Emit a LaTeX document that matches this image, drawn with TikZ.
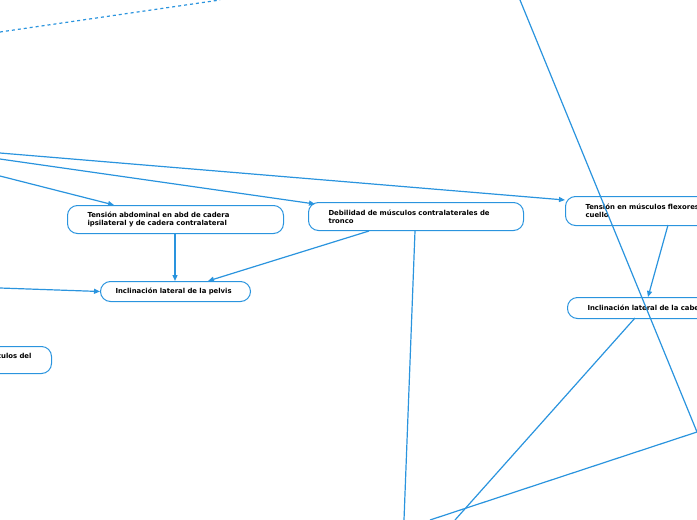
\documentclass[tikz,border=0pt]{standalone}
\usepackage{fontspec}
\setmainfont{DejaVu Sans}
\usetikzlibrary{arrows.meta}
\definecolor{ln}{HTML}{2A94DE}
\tikzset{
 box/.style={draw=ln,line width=1pt,rounded corners=10pt,anchor=north west,font=\bfseries\fontsize{6.9}{8.2}\selectfont,align=left,inner xsep=20pt,inner ysep=0pt,text width=176pt,minimum height=28pt},
 con/.style={draw=ln,line width=1.2pt},
 arr/.style={con,-{Triangle[length=6pt,width=5pt]}}
}
\begin{document}
\begin{tikzpicture}[x=1pt,y=-1pt]
\useasboundingbox (0,0) rectangle (697,520);
\clip (0,0) rectangle (697,520);
\node[box,text width=176pt] (n1) at (67,205) {Tensión abdominal en abd de cadera\\ipsilateral y de cadera contralateral};
\node[box,text width=175pt] (n2) at (308,202) {Debilidad de músculos contralaterales de\\tronco};
\node[box,minimum height=29pt] (n3) at (565,196) {Tensión en músculos flexores del\\cuello};
\node[box,text width=120pt,inner xsep=15pt,minimum height=20pt] (n4) at (100,281) {Inclinación lateral de la pelvis};
\node[box,minimum height=21pt] (n5) at (567,297) {Inclinación lateral de la cabeza};
\node[box,minimum height=27pt,text width=143pt,align=right] (n6) at (-132,346) {Debilidad de músculos del\hspace*{23pt}\\\phantom{x}};
\coordinate (a) at (0,32); \coordinate (b) at (220,0);
\draw[con,dashed] (a) -- (b);
\coordinate (l1) at (0,153); \coordinate (l2) at (0,159); \coordinate (l3) at (0,176); \coordinate (l4) at (0,288);
\draw[arr] (l1) -- (565,200);
\draw[arr] (l2) -- (315,204);
\draw[arr] (l3) -- (114,205);
\draw[arr] (l4) -- (n4.west);
\draw[arr] (175,233) -- (175,281);
\draw[arr] (369,231) -- (208,281);
\draw[arr] (668,225) -- (648,297);
\coordinate (t) at (520,0); \coordinate (r) at (697,432);
\draw[con] (t) -- (r);
\draw[con] (415,231) -- (404,520);
\draw[con] (635,318) -- (455,520);
\draw[con] (r) -- (430,520);
\end{tikzpicture}
\end{document}
